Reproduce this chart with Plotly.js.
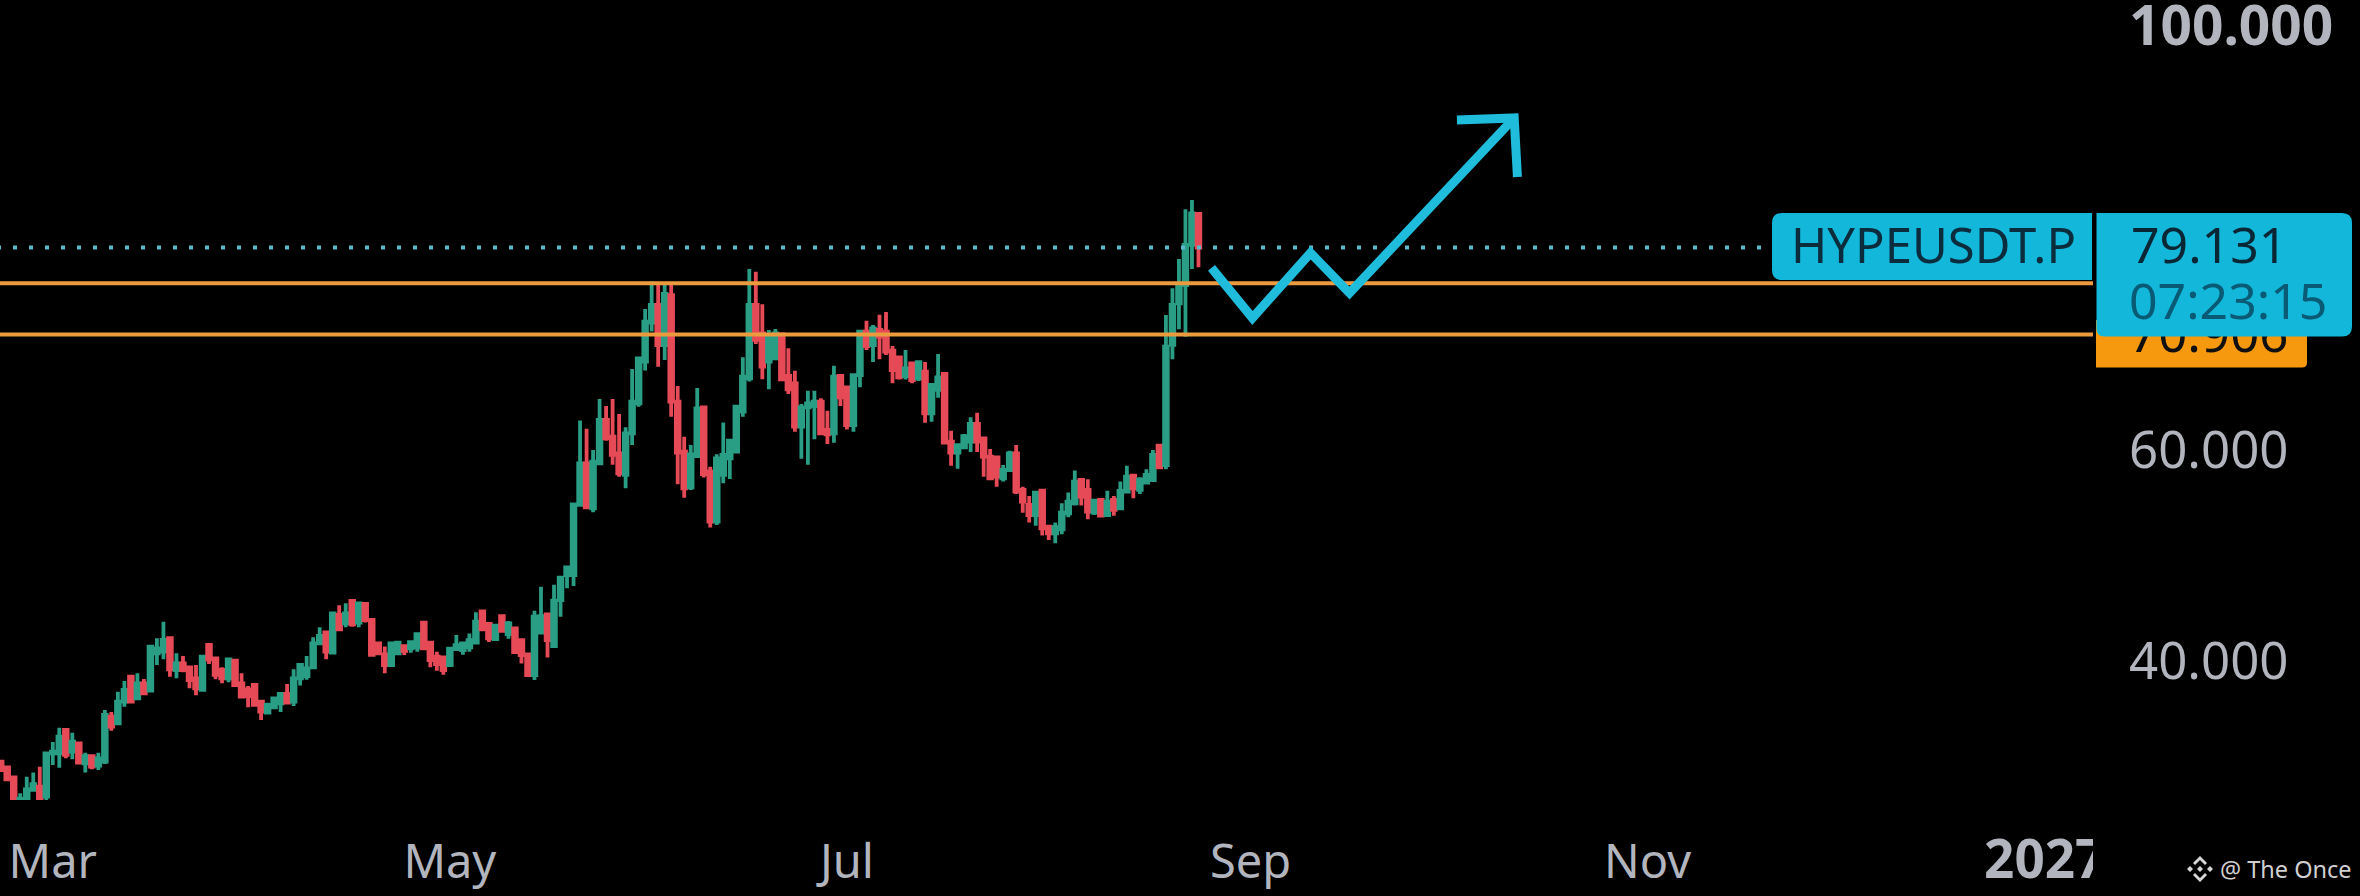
<!DOCTYPE html>
<html><head><meta charset="utf-8">
<script src="https://cdn.plot.ly/plotly-3.0.1.min.js"></script>
<style>html,body{margin:0;padding:0;background:#000;overflow:hidden}</style>
</head><body><div id="chart" style="width:2360px;height:896px"></div>
<script>
const firstDay = '2026-02-21';
const highs = [
30.59,30.02,29.08,27.50,29.08,29.46,30.02,31.38,32.36,33.71,
33.62,33.24,32.39,31.35,31.13,31.35,35.39,35.20,37.12,38.13,
38.63,38.85,38.32,41.50,42.17,43.74,42.26,40.75,40.49,39.55,
39.64,40.50,41.60,40.37,39.42,40.27,40.12,38.86,37.66,37.85,
36.33,36.08,36.65,37.09,37.85,39.23,39.80,40.50,42.26,43.21,
42.83,44.63,45.29,45.48,45.79,45.54,45.48,43.96,41.79,41.38,
41.79,41.85,41.53,41.91,42.70,43.74,41.84,40.90,40.42,41.24,
42.47,41.75,42.63,44.62,44.81,43.58,43.48,44.37,43.80,43.20,
42.07,40.74,44.78,47.05,44.53,47.24,47.99,48.88,54.87,62.76,
62.00,59.98,64.81,64.14,64.81,63.39,62.13,67.64,68.81,73.32,
75.91,75.75,75.59,75.75,66.04,61.24,60.45,65.85,64.08,58.40,
59.57,62.57,60.93,64.14,68.75,77.10,76.85,73.76,71.33,71.43,
71.02,69.60,67.48,64.33,65.59,65.59,64.87,63.70,67.96,67.11,
66.03,67.23,71.33,72.21,71.80,72.78,73.03,69.82,68.81,69.44,
68.30,68.40,68.30,66.22,69.06,67.30,61.81,60.61,61.49,63.07,
63.51,61.18,60.07,59.41,58.56,59.92,60.45,56.51,55.63,56.10,
56.26,52.89,53.11,54.94,55.95,58.03,57.27,57.21,55.31,55.41,
56.13,55.63,56.99,58.50,57.62,57.40,58.15,59.98,60.49,72.75,
75.28,78.05,82.75,83.63,82.37];
const bodyTops = [
30.50,29.96,29.01,27.00,27.88,28.38,28.13,31.29,31.44,32.86,
33.49,32.39,32.23,31.03,31.03,30.81,34.91,34.75,36.17,37.28,
38.54,37.91,37.91,41.38,41.22,42.01,42.17,39.80,39.80,39.42,
38.38,40.43,41.54,40.27,39.17,40.18,40.05,37.91,37.34,37.75,
36.18,35.86,36.49,36.90,36.90,38.38,39.64,39.33,41.69,42.39,
42.73,44.53,44.37,44.53,45.70,45.48,45.42,43.90,41.69,40.65,
41.69,41.76,41.43,41.81,42.57,43.64,41.75,40.42,40.36,41.18,
41.53,41.69,42.00,43.74,44.71,43.52,43.36,44.27,43.58,43.11,
42.00,40.65,44.21,44.27,44.43,45.72,47.90,48.88,54.84,58.72,
58.72,58.88,62.82,62.82,61.24,59.67,61.56,64.55,68.65,72.12,
73.70,73.70,74.74,74.64,64.55,59.82,59.57,63.92,64.02,57.93,
59.19,59.51,60.86,64.08,66.92,73.70,73.70,71.02,70.70,71.02,
70.92,66.98,66.29,64.02,64.39,64.55,64.55,61.87,66.92,66.98,
65.91,67.07,71.17,71.17,71.49,71.33,71.17,69.38,68.75,67.71,
68.18,68.30,67.39,66.13,66.85,67.17,60.77,60.45,61.30,62.44,
62.44,61.08,59.35,59.28,58.09,59.67,59.67,56.20,54.78,55.95,
56.13,52.73,52.67,54.05,55.09,56.99,57.14,56.20,55.19,55.25,
55.09,55.25,56.10,57.46,57.55,57.21,57.62,59.51,60.39,69.76,
73.70,75.43,79.38,82.37,82.31];
const bodyBottoms = [
29.71,28.83,26.81,26.81,26.81,27.82,27.03,27.19,31.29,31.29,
31.13,31.44,30.40,30.34,30.02,30.12,30.50,33.81,34.12,36.17,
36.17,36.49,36.96,37.21,40.75,40.90,39.23,39.17,39.17,38.22,
37.44,37.28,40.18,38.70,38.38,38.38,37.75,36.65,36.71,35.86,
35.23,35.13,35.64,36.02,36.08,36.18,38.38,38.60,39.42,41.69,
40.91,40.81,43.02,43.59,43.49,43.65,43.90,40.59,40.75,39.64,
39.64,40.75,40.99,41.21,41.31,41.21,40.11,39.73,39.16,39.64,
41.15,41.06,41.31,41.75,43.01,42.16,42.10,42.88,42.57,40.87,
40.58,38.69,38.69,42.70,42.00,41.43,45.79,48.15,48.15,54.78,
54.56,54.46,58.72,61.08,59.51,57.77,57.62,61.56,64.40,68.34,
72.03,69.91,69.91,64.55,59.73,56.35,56.45,59.41,57.71,53.20,
53.20,57.62,59.19,59.82,63.61,66.76,70.39,67.86,68.34,68.65,
66.66,65.72,62.19,62.19,64.02,64.14,61.56,61.46,61.56,64.96,
62.34,62.34,67.07,69.82,69.91,70.70,69.28,67.55,66.85,66.98,
66.60,66.76,63.45,63.45,65.66,60.67,59.73,59.73,60.23,60.77,
60.77,59.35,57.30,57.46,57.30,58.09,56.04,55.09,53.83,53.83,
52.57,52.10,52.10,52.48,53.99,54.94,55.57,54.15,54.05,53.77,
53.83,54.31,54.46,56.04,56.36,56.20,56.89,57.14,58.34,58.56,
69.92,73.86,75.59,79.38,79.131];
const lows = [
29.55,28.64,26.81,26.81,26.81,27.75,26.81,26.81,30.18,29.93,
30.81,30.72,30.24,29.46,29.77,29.71,30.28,33.43,34.06,35.70,
36.02,36.33,36.77,37.18,39.64,40.18,38.54,38.38,38.95,37.44,
36.77,37.28,39.74,38.29,37.91,38.00,37.69,36.49,35.64,35.86,
34.44,35.07,35.54,35.20,36.02,35.77,37.69,38.25,39.39,41.54,
40.18,40.75,42.89,43.21,43.27,43.21,43.65,40.56,40.56,38.86,
39.61,40.59,40.58,40.80,40.90,41.21,39.42,39.10,38.72,39.60,
41.06,40.61,40.90,41.69,42.95,41.81,42.00,42.79,42.13,40.80,
39.79,38.66,38.22,42.63,40.36,41.31,44.21,46.89,47.11,54.68,
54.43,54.08,58.69,60.86,58.59,57.46,56.35,60.45,64.08,67.49,
71.18,67.86,68.50,63.13,56.73,55.47,56.20,59.35,57.39,52.66,
52.88,56.83,57.24,59.67,63.13,66.45,70.01,66.67,65.72,68.50,
66.60,65.28,61.71,59.16,58.59,60.99,61.49,60.55,60.67,64.14,
61.93,61.71,65.91,69.44,68.30,68.56,68.97,66.29,66.66,66.66,
66.29,66.51,62.56,62.66,64.93,60.55,58.50,58.21,60.20,59.79,
59.79,57.46,57.14,56.51,56.99,58.03,55.82,54.05,53.11,52.82,
51.88,51.47,51.15,52.00,53.61,54.72,54.72,53.42,53.83,53.77,
53.77,53.77,54.31,56.04,55.41,55.82,56.83,57.08,58.22,58.15,
68.56,71.40,70.70,77.11,77.26];
const directions = [
'ddduuuduuu','dududuuduu','duduuududd','duddduדddd'.replace('ד','d'),
'duuuduuuuu','dudududddd','uuduuddddu',
'uuuuddudud','dduuduuuuu','duuddduuuu','ududdduudd',
'uuuuuudduu','ddduuuddud','duududdddu','duduudduuu','dddduudddu',
'dduuuuddud','uduuduuudu','uuuud'].join('').split('');
const priceLevels = [75.75, 70.906];
const lastPrice = 79.131;
const sketchDates = ['2026-08-26 00:00','2026-09-01 07:00','2026-09-10 05:00','2026-09-16 05:00','2026-10-11 12:00'];
const sketchPrices = [77.2,72.47,78.62,74.83,91.39];
const headDates = ['2026-10-02 17:00','2026-10-11 12:00','2026-10-12 00:00'];
const headPrices = [91.2,91.39,85.8];
const monthTicks = ['2026-03-01','2026-05-01','2026-07-01','2026-09-01','2026-11-01','2027-01-01'];
const monthLabels = ['Mar','May','Jul','Sep','Nov','<b style="font-size:53px">2027</b>'];
const priceTicks = [100,70.906,60,40];
const priceLabels = ['<b style="font-size:55px">100.000</b>','<span style="color:#101010">70.906</span>','60.000','40.000'];
const viewX = ['2026-02-20 21:25','2027-01-08 10:00'];
const viewY = [26.87,102.55];

const dates = highs.map((_,i)=>{const d=new Date(firstDay+'T00:00:00Z');d.setUTCDate(d.getUTCDate()+i);return d.toISOString().slice(0,10);});
const opens = bodyTops.map((t,i)=>directions[i]==='u'?bodyBottoms[i]:t);
const closes = bodyTops.map((t,i)=>directions[i]==='u'?t:bodyBottoms[i]);

const W=2093,H=800;
const px=x=>x/W, py=y=>1-y/H;
function rr(x0,y0,x1,y1,tl,tr,br,bl){
  const p=(x,y)=>px(x)+' '+py(y);
  return 'M'+p(x0+tl,y0)+' L'+p(x1-tr,y0)+' Q'+p(x1,y0)+' '+p(x1,y0+tr)+' L'+p(x1,y1-br)+' Q'+p(x1,y1)+' '+p(x1-br,y1)+
   ' L'+p(x0+bl,y1)+' Q'+p(x0,y1)+' '+p(x0,y1-bl)+' L'+p(x0,y0+tl)+' Q'+p(x0,y0)+' '+p(x0+tl,y0)+' Z';
}
function poly(pts){return 'M'+pts.map(q=>px(q[0])+' '+py(q[1])).join(' L')+' Z';}
const cx=2200,cy=869;
const logo=[
 [[cx,cy-13],[cx+7,cy-6],[cx+5,cy-4],[cx,cy-9],[cx-5,cy-4],[cx-7,cy-6]],
 [[cx,cy+13],[cx+7,cy+6],[cx+5,cy+4],[cx,cy+9],[cx-5,cy+4],[cx-7,cy+6]],
 [[cx-13,cy],[cx-10,cy-3],[cx-7,cy],[cx-10,cy+3]],
 [[cx+13,cy],[cx+10,cy-3],[cx+7,cy],[cx+10,cy+3]],
 [[cx,cy-3],[cx+3,cy],[cx,cy+3],[cx-3,cy]]
];
const shared={xref:'paper',yref:'paper'};
const shapes=[
 Object.assign({type:'path',layer:'below',path:rr(2096,320,2307,367.5,0,0,5,0),fillcolor:'#f7990f',line:{width:0}},shared),
 Object.assign({type:'rect',layer:'above',x0:1,x1:1.13,y0:-0.12,y1:0,fillcolor:'#000',line:{width:0}},shared),
 Object.assign({type:'path',layer:'above',path:rr(1772,213,2092,280,10,0,0,10),fillcolor:'#12b7d9',line:{width:0}},shared),
 Object.assign({type:'path',layer:'above',path:rr(2096.5,213,2352,336.5,0,10,10,8),fillcolor:'#12b7d9',line:{width:0}},shared)
].concat(logo.map(l=>Object.assign({type:'path',layer:'above',path:poly(l),fillcolor:'#d8d8d8',line:{width:0}},shared)));

function ann(text,x,y,size,color,anchor){
 return {xref:'paper',yref:'paper',x:px(x),y:py(y),text:text,showarrow:false,xanchor:anchor||'left',yanchor:'middle',
  font:{family:'Noto Sans, sans-serif',size:size,color:color},borderpad:0};
}
const annotations=[
 ann('HYPEUSDT.P',1933,244,49,'#0b2c3d','center'),
 ann('79.131',2130,244,50,'#082633'),
 ann('07:23:15',2128,300,50,'#085a75'),
 ann('@ The Once',2219,869,23.5,'#d0d0d0')
];

const lineTrace=(x,y,line)=>({type:'scatter',mode:'lines',x:x,y:y,line:line,hoverinfo:'skip',showlegend:false});
const traces=[
 lineTrace(viewX,[priceLevels[0],priceLevels[0]],{color:'#ec9a3e',width:4}),
 lineTrace(viewX,[priceLevels[1],priceLevels[1]],{color:'#ec9a3e',width:4}),
 lineTrace(['2026-02-20 10:20','2026-12-01'],[lastPrice,lastPrice],{color:'#5cb9cc',width:4,dash:'4px,12px'}),
 {type:'candlestick',x:dates,open:opens,high:highs,low:lows,close:closes,whiskerwidth:0,hoverinfo:'skip',showlegend:false,
  increasing:{line:{color:'#2a9d85',width:3.8},fillcolor:'#2a9d85'},
  decreasing:{line:{color:'#e64a57',width:3.8},fillcolor:'#e64a57'}},
 lineTrace(sketchDates,sketchPrices,{color:'#1fbcdc',width:9}),
 lineTrace(headDates,headPrices,{color:'#1fbcdc',width:9})
];
const layout={
 width:2360,height:896,autosize:false,
 margin:{l:0,r:267,t:0,b:96,pad:0},
 paper_bgcolor:'#000',plot_bgcolor:'#000',showlegend:false,boxgap:0.25,boxgroupgap:0.25,
 font:{family:'Noto Sans, sans-serif',color:'#b2b5be'},
 xaxis:{type:'date',range:viewX,rangeslider:{visible:false},showgrid:false,zeroline:false,showline:false,ticks:'',
  tickmode:'array',tickvals:monthTicks,ticktext:monthLabels,tickfont:{size:47,color:'#b2b5be'},ticklabelstandoff:30,ticklabeloverflow:'allow'},
 yaxis:{side:'right',range:viewY,showgrid:false,zeroline:false,showline:false,ticks:'',
  tickmode:'array',tickvals:priceTicks,ticktext:priceLabels,tickfont:{size:51,color:'#b2b5be'},ticklabelstandoff:35,ticklabeloverflow:'allow',automargin:false},
 shapes:shapes,annotations:annotations
};
Plotly.newPlot('chart',traces,layout,{staticPlot:true,displayModeBar:false});
</script></body></html>
